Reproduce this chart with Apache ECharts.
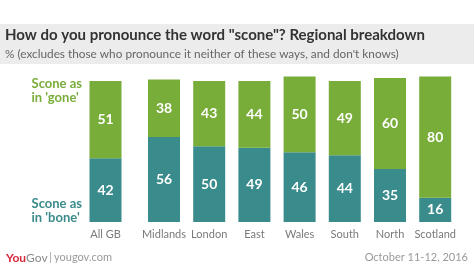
<!DOCTYPE html>
<html><head><meta charset="utf-8">
<script src="https://cdn.jsdelivr.net/npm/echarts@6/dist/echarts.min.js"></script>
<style>html,body{margin:0;padding:0;background:#fff}#c{width:474px;height:272px}</style>
</head><body><div id="c"></div>
<script>
const categories = ["All GB","Midlands","London","East","Wales","South","North","Scotland"];
const bone = [42,56,50,49,46,44,35,16];
const gone = [51,38,43,44,50,49,60,80];
const titleText = 'How do you pronounce the word "scone"? Regional breakdown';
const subtitleText = "% (excludes those who pronounce it neither of these ways, and don't knows)";
const dateText = "October 11-12, 2016";

const GREEN = '#79ad3a', TEAL = '#3a8b8c';
const FONT = 'Lato';
const chart = echarts.init(document.getElementById('c'), null, {renderer:'canvas'});

const grids = [
  {left:82.9, width:45.2, top:70.4, height:151.6},
  {left:141.4, width:316.4, top:70.4, height:151.6}
];
const catSets = [categories.slice(0,1), categories.slice(1)];
const boneSets = [bone.slice(0,1), bone.slice(1)];
const goneSets = [gone.slice(0,1), gone.slice(1)];

const xAxis = [], yAxis = [], series = [];
for (let i=0;i<2;i++){
  xAxis.push({type:'category', gridIndex:i, data:catSets[i],
    axisLine:{show:false}, axisTick:{show:false},
    axisLabel:{color:'#7a7a7a', fontFamily:FONT, fontSize:11, margin:7, interval:0}});
  yAxis.push({type:'value', gridIndex:i, min:0, max:100, show:false, splitLine:{show:false}});
  const lbl = {show:true, position:'inside', color:'#fff', fontFamily:FONT, fontWeight:'bold', fontSize:14};
  series.push({type:'bar', xAxisIndex:i, yAxisIndex:i, stack:'s'+i, data:boneSets[i], barWidth:32,
    itemStyle:{color:TEAL}, label:lbl, silent:true});
  series.push({type:'bar', xAxisIndex:i, yAxisIndex:i, stack:'s'+i, data:goneSets[i], barWidth:32,
    itemStyle:{color:GREEN}, label:lbl, silent:true});
}

chart.setOption({
  animation:false,
  grid:grids, xAxis, yAxis, series,
  graphic:[
    {type:'rect', left:0, top:24, shape:{width:474, height:40}, style:{fill:'#ececec'}, z:-1},
    {type:'text', left:5, top:28, style:{text:titleText, fill:'#333', font:'bold 15px '+FONT}},
    {type:'text', left:5, top:48, style:{text:subtitleText, fill:'#666', font:'11.8px '+FONT}},
    {type:'text', right:392, top:77, style:{text:"Scone as\nin 'gone'", fill:GREEN, font:'bold 13px '+FONT, align:'right', lineHeight:14}},
    {type:'text', right:392, top:197, style:{text:"Scone as\nin 'bone'", fill:TEAL, font:'bold 13px '+FONT, align:'right', lineHeight:14}},
    {type:'text', left:6, top:252, style:{rich:{a:{fill:'#d9273b', font:'bold 12px '+FONT},b:{fill:'#8a8a8a', font:'12px '+FONT}}, text:'{a|You}{b|Gov}'}},
    {type:'text', left:49, top:251, style:{text:'|', fill:'#aaaaaa', font:'12px '+FONT}},
    {type:'text', left:54, top:252, style:{text:'yougov.com', fill:'#9a9a9a', font:'11px '+FONT}},
    {type:'text', right:6, top:252, style:{text:dateText, fill:'#9a9a9a', font:'11px '+FONT}}
  ]
});
</script></body></html>
